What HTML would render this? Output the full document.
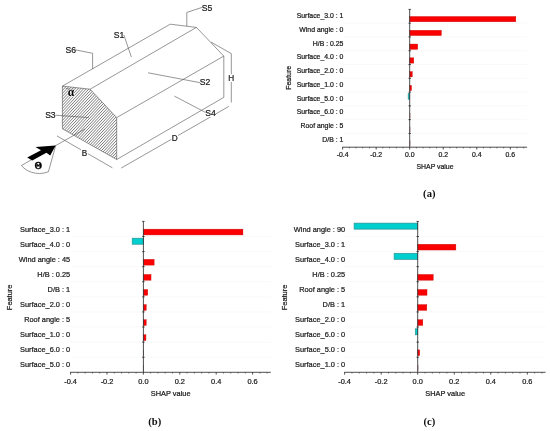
<!DOCTYPE html><html><head><meta charset="utf-8"><title>Figure</title>
<style>html,body{margin:0;padding:0;background:#fff}svg{display:block}text{font-family:"Liberation Sans",sans-serif;fill:#1a1a1a;stroke:#1a1a1a;stroke-width:0.22px}.ser{font-family:"Liberation Serif",serif;font-weight:bold;fill:#111;stroke:none}</style></head><body>
<svg width="550" height="431" viewBox="0 0 550 431">
<rect width="550" height="431" fill="#fff"/>
<line x1="342.62" y1="23.18" x2="527.09" y2="23.18" stroke="#f7f7f7" stroke-width="0.8"/>
<line x1="342.62" y1="36.96" x2="527.09" y2="36.96" stroke="#f7f7f7" stroke-width="0.8"/>
<line x1="342.62" y1="50.74" x2="527.09" y2="50.74" stroke="#f7f7f7" stroke-width="0.8"/>
<line x1="342.62" y1="64.52" x2="527.09" y2="64.52" stroke="#f7f7f7" stroke-width="0.8"/>
<line x1="342.62" y1="78.3" x2="527.09" y2="78.3" stroke="#f7f7f7" stroke-width="0.8"/>
<line x1="342.62" y1="92.08" x2="527.09" y2="92.08" stroke="#f7f7f7" stroke-width="0.8"/>
<line x1="342.62" y1="105.86" x2="527.09" y2="105.86" stroke="#f7f7f7" stroke-width="0.8"/>
<line x1="342.62" y1="119.64" x2="527.09" y2="119.64" stroke="#f7f7f7" stroke-width="0.8"/>
<line x1="342.62" y1="133.42" x2="527.09" y2="133.42" stroke="#f7f7f7" stroke-width="0.8"/>
<rect x="409.7" y="16.49" width="106.15" height="5.3" fill="#fb0000" stroke="#c81414" stroke-width="0.4"/>
<text x="343.4" y="18" font-size="6.9" text-anchor="end">Surface_3.0 : 1</text>
<rect x="409.7" y="30.27" width="31.7" height="5.3" fill="#fb0000" stroke="#c81414" stroke-width="0.4"/>
<text x="343.4" y="32" font-size="6.9" text-anchor="end">Wind angle : 0</text>
<rect x="409.7" y="44.05" width="8.05" height="5.3" fill="#fb0000" stroke="#c81414" stroke-width="0.4"/>
<text x="343.4" y="46" font-size="6.9" text-anchor="end">H/B : 0.25</text>
<rect x="409.7" y="57.83" width="4.11" height="5.3" fill="#fb0000" stroke="#c81414" stroke-width="0.4"/>
<text x="343.4" y="59" font-size="6.9" text-anchor="end">Surface_4.0 : 0</text>
<rect x="409.7" y="71.61" width="2.6" height="5.3" fill="#fb0000" stroke="#c81414" stroke-width="0.4"/>
<text x="343.4" y="73" font-size="6.9" text-anchor="end">Surface_2.0 : 0</text>
<rect x="409.7" y="85.39" width="1.84" height="5.3" fill="#fb0000" stroke="#c81414" stroke-width="0.4"/>
<text x="343.4" y="87" font-size="6.9" text-anchor="end">Surface_1.0 : 0</text>
<rect x="408.19" y="93.67" width="1.51" height="5.5" fill="#00cfcf" stroke="#2a9292" stroke-width="0.7"/>
<text x="343.4" y="101" font-size="6.9" text-anchor="end">Surface_5.0 : 0</text>
<rect x="409.7" y="112.95" width="0.6" height="5.3" fill="#a85a5a"/>
<text x="343.4" y="114" font-size="6.9" text-anchor="end">Surface_6.0 : 0</text>
<rect x="409.7" y="126.73" width="0.6" height="5.3" fill="#a85a5a"/>
<text x="343.4" y="128" font-size="6.9" text-anchor="end">Roof angle : 5</text>
<rect x="409.7" y="140.51" width="0.6" height="5.3" fill="#a85a5a"/>
<text x="343.4" y="142" font-size="6.9" text-anchor="end">D/B : 1</text>
<line x1="409.7" y1="9.4" x2="409.7" y2="147.2" stroke="#2e2e2e" stroke-width="0.85"/>
<line x1="408.5" y1="9.4" x2="410.9" y2="9.4" stroke="#222" stroke-width="0.8"/>
<line x1="408.5" y1="23.18" x2="410.9" y2="23.18" stroke="#222" stroke-width="0.8"/>
<line x1="408.5" y1="36.96" x2="410.9" y2="36.96" stroke="#222" stroke-width="0.8"/>
<line x1="408.5" y1="50.74" x2="410.9" y2="50.74" stroke="#222" stroke-width="0.8"/>
<line x1="408.5" y1="64.52" x2="410.9" y2="64.52" stroke="#222" stroke-width="0.8"/>
<line x1="408.5" y1="78.3" x2="410.9" y2="78.3" stroke="#222" stroke-width="0.8"/>
<line x1="408.5" y1="92.08" x2="410.9" y2="92.08" stroke="#222" stroke-width="0.8"/>
<line x1="408.5" y1="105.86" x2="410.9" y2="105.86" stroke="#222" stroke-width="0.8"/>
<line x1="408.5" y1="119.64" x2="410.9" y2="119.64" stroke="#222" stroke-width="0.8"/>
<line x1="408.5" y1="133.42" x2="410.9" y2="133.42" stroke="#222" stroke-width="0.8"/>
<line x1="342.22" y1="147.2" x2="527.09" y2="147.2" stroke="#2e2e2e" stroke-width="0.85"/>
<line x1="342.62" y1="147.2" x2="342.62" y2="149.5" stroke="#222" stroke-width="0.8"/>
<line x1="349.33" y1="147.2" x2="349.33" y2="148.4" stroke="#333" stroke-width="0.7"/>
<line x1="356.04" y1="147.2" x2="356.04" y2="148.4" stroke="#333" stroke-width="0.7"/>
<line x1="362.74" y1="147.2" x2="362.74" y2="148.4" stroke="#333" stroke-width="0.7"/>
<line x1="369.45" y1="147.2" x2="369.45" y2="148.4" stroke="#333" stroke-width="0.7"/>
<line x1="376.16" y1="147.2" x2="376.16" y2="149.5" stroke="#222" stroke-width="0.8"/>
<line x1="382.87" y1="147.2" x2="382.87" y2="148.4" stroke="#333" stroke-width="0.7"/>
<line x1="389.58" y1="147.2" x2="389.58" y2="148.4" stroke="#333" stroke-width="0.7"/>
<line x1="396.28" y1="147.2" x2="396.28" y2="148.4" stroke="#333" stroke-width="0.7"/>
<line x1="402.99" y1="147.2" x2="402.99" y2="148.4" stroke="#333" stroke-width="0.7"/>
<line x1="409.7" y1="147.2" x2="409.7" y2="149.5" stroke="#222" stroke-width="0.8"/>
<line x1="416.41" y1="147.2" x2="416.41" y2="148.4" stroke="#333" stroke-width="0.7"/>
<line x1="423.12" y1="147.2" x2="423.12" y2="148.4" stroke="#333" stroke-width="0.7"/>
<line x1="429.82" y1="147.2" x2="429.82" y2="148.4" stroke="#333" stroke-width="0.7"/>
<line x1="436.53" y1="147.2" x2="436.53" y2="148.4" stroke="#333" stroke-width="0.7"/>
<line x1="443.24" y1="147.2" x2="443.24" y2="149.5" stroke="#222" stroke-width="0.8"/>
<line x1="449.95" y1="147.2" x2="449.95" y2="148.4" stroke="#333" stroke-width="0.7"/>
<line x1="456.66" y1="147.2" x2="456.66" y2="148.4" stroke="#333" stroke-width="0.7"/>
<line x1="463.36" y1="147.2" x2="463.36" y2="148.4" stroke="#333" stroke-width="0.7"/>
<line x1="470.07" y1="147.2" x2="470.07" y2="148.4" stroke="#333" stroke-width="0.7"/>
<line x1="476.78" y1="147.2" x2="476.78" y2="149.5" stroke="#222" stroke-width="0.8"/>
<line x1="483.49" y1="147.2" x2="483.49" y2="148.4" stroke="#333" stroke-width="0.7"/>
<line x1="490.2" y1="147.2" x2="490.2" y2="148.4" stroke="#333" stroke-width="0.7"/>
<line x1="496.9" y1="147.2" x2="496.9" y2="148.4" stroke="#333" stroke-width="0.7"/>
<line x1="503.61" y1="147.2" x2="503.61" y2="148.4" stroke="#333" stroke-width="0.7"/>
<line x1="510.32" y1="147.2" x2="510.32" y2="149.5" stroke="#222" stroke-width="0.8"/>
<line x1="517.03" y1="147.2" x2="517.03" y2="148.4" stroke="#333" stroke-width="0.7"/>
<line x1="523.74" y1="147.2" x2="523.74" y2="148.4" stroke="#333" stroke-width="0.7"/>
<text x="342.62" y="156.77" font-size="6.9" text-anchor="middle">-0.4</text>
<text x="376.16" y="156.77" font-size="6.9" text-anchor="middle">-0.2</text>
<text x="409.7" y="156.77" font-size="6.9" text-anchor="middle">0.0</text>
<text x="443.24" y="156.77" font-size="6.9" text-anchor="middle">0.2</text>
<text x="476.78" y="156.77" font-size="6.9" text-anchor="middle">0.4</text>
<text x="510.32" y="156.77" font-size="6.9" text-anchor="middle">0.6</text>
<text x="435" y="168.67" font-size="6.9" text-anchor="middle">SHAP value</text>
<text transform="translate(291.27,77.8) rotate(-90)" font-size="6.9" text-anchor="middle">Feature</text>
<text class="ser" x="429.3" y="196.6" font-size="10.6" text-anchor="middle">(a)</text>
<line x1="70.6" y1="236.49" x2="270.8" y2="236.49" stroke="#f7f7f7" stroke-width="0.8"/>
<line x1="70.6" y1="251.58" x2="270.8" y2="251.58" stroke="#f7f7f7" stroke-width="0.8"/>
<line x1="70.6" y1="266.67" x2="270.8" y2="266.67" stroke="#f7f7f7" stroke-width="0.8"/>
<line x1="70.6" y1="281.76" x2="270.8" y2="281.76" stroke="#f7f7f7" stroke-width="0.8"/>
<line x1="70.6" y1="296.85" x2="270.8" y2="296.85" stroke="#f7f7f7" stroke-width="0.8"/>
<line x1="70.6" y1="311.94" x2="270.8" y2="311.94" stroke="#f7f7f7" stroke-width="0.8"/>
<line x1="70.6" y1="327.03" x2="270.8" y2="327.03" stroke="#f7f7f7" stroke-width="0.8"/>
<line x1="70.6" y1="342.12" x2="270.8" y2="342.12" stroke="#f7f7f7" stroke-width="0.8"/>
<line x1="70.6" y1="357.21" x2="270.8" y2="357.21" stroke="#f7f7f7" stroke-width="0.8"/>
<rect x="143.4" y="229.14" width="99.55" height="5.8" fill="#fb0000" stroke="#c81414" stroke-width="0.4"/>
<text x="70.2" y="232" font-size="7.4" text-anchor="end">Surface_3.0 : 1</text>
<rect x="132.21" y="238.23" width="11.19" height="6" fill="#00cfcf" stroke="#2a9292" stroke-width="0.7"/>
<text x="70.2" y="247" font-size="7.4" text-anchor="end">Surface_4.0 : 0</text>
<rect x="143.4" y="259.32" width="10.74" height="5.8" fill="#fb0000" stroke="#c81414" stroke-width="0.4"/>
<text x="70.2" y="262" font-size="7.4" text-anchor="end">Wind angle : 45</text>
<rect x="143.4" y="274.42" width="7.64" height="5.8" fill="#fb0000" stroke="#c81414" stroke-width="0.4"/>
<text x="70.2" y="277" font-size="7.4" text-anchor="end">H/B : 0.25</text>
<rect x="143.4" y="289.5" width="4.37" height="5.8" fill="#fb0000" stroke="#c81414" stroke-width="0.4"/>
<text x="70.2" y="292" font-size="7.4" text-anchor="end">D/B : 1</text>
<rect x="143.4" y="304.59" width="2.82" height="5.8" fill="#fb0000" stroke="#c81414" stroke-width="0.4"/>
<text x="70.2" y="307" font-size="7.4" text-anchor="end">Surface_2.0 : 0</text>
<rect x="143.4" y="319.69" width="2.8" height="5.8" fill="#fb0000" stroke="#c81414" stroke-width="0.4"/>
<text x="70.2" y="322" font-size="7.4" text-anchor="end">Roof angle : 5</text>
<rect x="143.4" y="334.77" width="2.55" height="5.8" fill="#fb0000" stroke="#c81414" stroke-width="0.4"/>
<text x="70.2" y="337" font-size="7.4" text-anchor="end">Surface_1.0 : 0</text>
<rect x="143.4" y="349.86" width="0.6" height="5.8" fill="#a85a5a"/>
<text x="70.2" y="352" font-size="7.4" text-anchor="end">Surface_6.0 : 0</text>
<rect x="143.4" y="364.95" width="0.6" height="5.8" fill="#a85a5a"/>
<text x="70.2" y="367" font-size="7.4" text-anchor="end">Surface_5.0 : 0</text>
<line x1="143.4" y1="221.4" x2="143.4" y2="372.3" stroke="#2e2e2e" stroke-width="0.85"/>
<line x1="142.2" y1="221.4" x2="144.6" y2="221.4" stroke="#222" stroke-width="0.8"/>
<line x1="142.2" y1="236.49" x2="144.6" y2="236.49" stroke="#222" stroke-width="0.8"/>
<line x1="142.2" y1="251.58" x2="144.6" y2="251.58" stroke="#222" stroke-width="0.8"/>
<line x1="142.2" y1="266.67" x2="144.6" y2="266.67" stroke="#222" stroke-width="0.8"/>
<line x1="142.2" y1="281.76" x2="144.6" y2="281.76" stroke="#222" stroke-width="0.8"/>
<line x1="142.2" y1="296.85" x2="144.6" y2="296.85" stroke="#222" stroke-width="0.8"/>
<line x1="142.2" y1="311.94" x2="144.6" y2="311.94" stroke="#222" stroke-width="0.8"/>
<line x1="142.2" y1="327.03" x2="144.6" y2="327.03" stroke="#222" stroke-width="0.8"/>
<line x1="142.2" y1="342.12" x2="144.6" y2="342.12" stroke="#222" stroke-width="0.8"/>
<line x1="142.2" y1="357.21" x2="144.6" y2="357.21" stroke="#222" stroke-width="0.8"/>
<line x1="70.2" y1="372.3" x2="270.8" y2="372.3" stroke="#2e2e2e" stroke-width="0.85"/>
<line x1="70.6" y1="372.3" x2="70.6" y2="374.6" stroke="#222" stroke-width="0.8"/>
<line x1="77.88" y1="372.3" x2="77.88" y2="373.5" stroke="#333" stroke-width="0.7"/>
<line x1="85.16" y1="372.3" x2="85.16" y2="373.5" stroke="#333" stroke-width="0.7"/>
<line x1="92.44" y1="372.3" x2="92.44" y2="373.5" stroke="#333" stroke-width="0.7"/>
<line x1="99.72" y1="372.3" x2="99.72" y2="373.5" stroke="#333" stroke-width="0.7"/>
<line x1="107" y1="372.3" x2="107" y2="374.6" stroke="#222" stroke-width="0.8"/>
<line x1="114.28" y1="372.3" x2="114.28" y2="373.5" stroke="#333" stroke-width="0.7"/>
<line x1="121.56" y1="372.3" x2="121.56" y2="373.5" stroke="#333" stroke-width="0.7"/>
<line x1="128.84" y1="372.3" x2="128.84" y2="373.5" stroke="#333" stroke-width="0.7"/>
<line x1="136.12" y1="372.3" x2="136.12" y2="373.5" stroke="#333" stroke-width="0.7"/>
<line x1="143.4" y1="372.3" x2="143.4" y2="374.6" stroke="#222" stroke-width="0.8"/>
<line x1="150.68" y1="372.3" x2="150.68" y2="373.5" stroke="#333" stroke-width="0.7"/>
<line x1="157.96" y1="372.3" x2="157.96" y2="373.5" stroke="#333" stroke-width="0.7"/>
<line x1="165.24" y1="372.3" x2="165.24" y2="373.5" stroke="#333" stroke-width="0.7"/>
<line x1="172.52" y1="372.3" x2="172.52" y2="373.5" stroke="#333" stroke-width="0.7"/>
<line x1="179.8" y1="372.3" x2="179.8" y2="374.6" stroke="#222" stroke-width="0.8"/>
<line x1="187.08" y1="372.3" x2="187.08" y2="373.5" stroke="#333" stroke-width="0.7"/>
<line x1="194.36" y1="372.3" x2="194.36" y2="373.5" stroke="#333" stroke-width="0.7"/>
<line x1="201.64" y1="372.3" x2="201.64" y2="373.5" stroke="#333" stroke-width="0.7"/>
<line x1="208.92" y1="372.3" x2="208.92" y2="373.5" stroke="#333" stroke-width="0.7"/>
<line x1="216.2" y1="372.3" x2="216.2" y2="374.6" stroke="#222" stroke-width="0.8"/>
<line x1="223.48" y1="372.3" x2="223.48" y2="373.5" stroke="#333" stroke-width="0.7"/>
<line x1="230.76" y1="372.3" x2="230.76" y2="373.5" stroke="#333" stroke-width="0.7"/>
<line x1="238.04" y1="372.3" x2="238.04" y2="373.5" stroke="#333" stroke-width="0.7"/>
<line x1="245.32" y1="372.3" x2="245.32" y2="373.5" stroke="#333" stroke-width="0.7"/>
<line x1="252.6" y1="372.3" x2="252.6" y2="374.6" stroke="#222" stroke-width="0.8"/>
<line x1="259.88" y1="372.3" x2="259.88" y2="373.5" stroke="#333" stroke-width="0.7"/>
<line x1="267.16" y1="372.3" x2="267.16" y2="373.5" stroke="#333" stroke-width="0.7"/>
<text x="70.6" y="383.65" font-size="7.4" text-anchor="middle">-0.4</text>
<text x="107" y="383.65" font-size="7.4" text-anchor="middle">-0.2</text>
<text x="143.4" y="383.65" font-size="7.4" text-anchor="middle">0.0</text>
<text x="179.8" y="383.65" font-size="7.4" text-anchor="middle">0.2</text>
<text x="216.2" y="383.65" font-size="7.4" text-anchor="middle">0.4</text>
<text x="252.6" y="383.65" font-size="7.4" text-anchor="middle">0.6</text>
<text x="170.7" y="395.65" font-size="7.4" text-anchor="middle">SHAP value</text>
<text transform="translate(11.95,297.4) rotate(-90)" font-size="7.4" text-anchor="middle">Feature</text>
<text class="ser" x="154.8" y="425" font-size="10.6" text-anchor="middle">(b)</text>
<line x1="344.62" y1="236.49" x2="545.59" y2="236.49" stroke="#f7f7f7" stroke-width="0.8"/>
<line x1="344.62" y1="251.58" x2="545.59" y2="251.58" stroke="#f7f7f7" stroke-width="0.8"/>
<line x1="344.62" y1="266.67" x2="545.59" y2="266.67" stroke="#f7f7f7" stroke-width="0.8"/>
<line x1="344.62" y1="281.76" x2="545.59" y2="281.76" stroke="#f7f7f7" stroke-width="0.8"/>
<line x1="344.62" y1="296.85" x2="545.59" y2="296.85" stroke="#f7f7f7" stroke-width="0.8"/>
<line x1="344.62" y1="311.94" x2="545.59" y2="311.94" stroke="#f7f7f7" stroke-width="0.8"/>
<line x1="344.62" y1="327.03" x2="545.59" y2="327.03" stroke="#f7f7f7" stroke-width="0.8"/>
<line x1="344.62" y1="342.12" x2="545.59" y2="342.12" stroke="#f7f7f7" stroke-width="0.8"/>
<line x1="344.62" y1="357.21" x2="545.59" y2="357.21" stroke="#f7f7f7" stroke-width="0.8"/>
<rect x="354.12" y="223.14" width="63.58" height="6" fill="#00cfcf" stroke="#2a9292" stroke-width="0.7"/>
<text x="345.2" y="232" font-size="7.4" text-anchor="end">Wind angle : 90</text>
<rect x="417.7" y="244.23" width="38.18" height="5.8" fill="#fb0000" stroke="#c81414" stroke-width="0.4"/>
<text x="345.2" y="247" font-size="7.4" text-anchor="end">Surface_3.0 : 1</text>
<rect x="394.13" y="253.32" width="23.57" height="6" fill="#00cfcf" stroke="#2a9292" stroke-width="0.7"/>
<text x="345.2" y="262" font-size="7.4" text-anchor="end">Surface_4.0 : 0</text>
<rect x="417.7" y="274.42" width="15.53" height="5.8" fill="#fb0000" stroke="#c81414" stroke-width="0.4"/>
<text x="345.2" y="277" font-size="7.4" text-anchor="end">H/B : 0.25</text>
<rect x="417.7" y="289.5" width="9.32" height="5.8" fill="#fb0000" stroke="#c81414" stroke-width="0.4"/>
<text x="345.2" y="292" font-size="7.4" text-anchor="end">Roof angle : 5</text>
<rect x="417.7" y="304.59" width="9.13" height="5.8" fill="#fb0000" stroke="#c81414" stroke-width="0.4"/>
<text x="345.2" y="307" font-size="7.4" text-anchor="end">D/B : 1</text>
<rect x="417.7" y="319.69" width="5.12" height="5.8" fill="#fb0000" stroke="#c81414" stroke-width="0.4"/>
<text x="345.2" y="322" font-size="7.4" text-anchor="end">Surface_2.0 : 0</text>
<rect x="415.32" y="328.77" width="2.38" height="6" fill="#00cfcf" stroke="#2a9292" stroke-width="0.7"/>
<text x="345.2" y="337" font-size="7.4" text-anchor="end">Surface_6.0 : 0</text>
<rect x="417.7" y="349.86" width="2.01" height="5.8" fill="#fb0000" stroke="#c81414" stroke-width="0.4"/>
<text x="345.2" y="352" font-size="7.4" text-anchor="end">Surface_5.0 : 0</text>
<rect x="417.7" y="364.95" width="0.6" height="5.8" fill="#a85a5a"/>
<text x="345.2" y="367" font-size="7.4" text-anchor="end">Surface_1.0 : 0</text>
<line x1="417.7" y1="221.4" x2="417.7" y2="372.3" stroke="#2e2e2e" stroke-width="0.85"/>
<line x1="416.5" y1="221.4" x2="418.9" y2="221.4" stroke="#222" stroke-width="0.8"/>
<line x1="416.5" y1="236.49" x2="418.9" y2="236.49" stroke="#222" stroke-width="0.8"/>
<line x1="416.5" y1="251.58" x2="418.9" y2="251.58" stroke="#222" stroke-width="0.8"/>
<line x1="416.5" y1="266.67" x2="418.9" y2="266.67" stroke="#222" stroke-width="0.8"/>
<line x1="416.5" y1="281.76" x2="418.9" y2="281.76" stroke="#222" stroke-width="0.8"/>
<line x1="416.5" y1="296.85" x2="418.9" y2="296.85" stroke="#222" stroke-width="0.8"/>
<line x1="416.5" y1="311.94" x2="418.9" y2="311.94" stroke="#222" stroke-width="0.8"/>
<line x1="416.5" y1="327.03" x2="418.9" y2="327.03" stroke="#222" stroke-width="0.8"/>
<line x1="416.5" y1="342.12" x2="418.9" y2="342.12" stroke="#222" stroke-width="0.8"/>
<line x1="416.5" y1="357.21" x2="418.9" y2="357.21" stroke="#222" stroke-width="0.8"/>
<line x1="344.22" y1="372.3" x2="545.59" y2="372.3" stroke="#2e2e2e" stroke-width="0.85"/>
<line x1="344.62" y1="372.3" x2="344.62" y2="374.6" stroke="#222" stroke-width="0.8"/>
<line x1="351.93" y1="372.3" x2="351.93" y2="373.5" stroke="#333" stroke-width="0.7"/>
<line x1="359.24" y1="372.3" x2="359.24" y2="373.5" stroke="#333" stroke-width="0.7"/>
<line x1="366.54" y1="372.3" x2="366.54" y2="373.5" stroke="#333" stroke-width="0.7"/>
<line x1="373.85" y1="372.3" x2="373.85" y2="373.5" stroke="#333" stroke-width="0.7"/>
<line x1="381.16" y1="372.3" x2="381.16" y2="374.6" stroke="#222" stroke-width="0.8"/>
<line x1="388.47" y1="372.3" x2="388.47" y2="373.5" stroke="#333" stroke-width="0.7"/>
<line x1="395.78" y1="372.3" x2="395.78" y2="373.5" stroke="#333" stroke-width="0.7"/>
<line x1="403.08" y1="372.3" x2="403.08" y2="373.5" stroke="#333" stroke-width="0.7"/>
<line x1="410.39" y1="372.3" x2="410.39" y2="373.5" stroke="#333" stroke-width="0.7"/>
<line x1="417.7" y1="372.3" x2="417.7" y2="374.6" stroke="#222" stroke-width="0.8"/>
<line x1="425.01" y1="372.3" x2="425.01" y2="373.5" stroke="#333" stroke-width="0.7"/>
<line x1="432.32" y1="372.3" x2="432.32" y2="373.5" stroke="#333" stroke-width="0.7"/>
<line x1="439.62" y1="372.3" x2="439.62" y2="373.5" stroke="#333" stroke-width="0.7"/>
<line x1="446.93" y1="372.3" x2="446.93" y2="373.5" stroke="#333" stroke-width="0.7"/>
<line x1="454.24" y1="372.3" x2="454.24" y2="374.6" stroke="#222" stroke-width="0.8"/>
<line x1="461.55" y1="372.3" x2="461.55" y2="373.5" stroke="#333" stroke-width="0.7"/>
<line x1="468.86" y1="372.3" x2="468.86" y2="373.5" stroke="#333" stroke-width="0.7"/>
<line x1="476.16" y1="372.3" x2="476.16" y2="373.5" stroke="#333" stroke-width="0.7"/>
<line x1="483.47" y1="372.3" x2="483.47" y2="373.5" stroke="#333" stroke-width="0.7"/>
<line x1="490.78" y1="372.3" x2="490.78" y2="374.6" stroke="#222" stroke-width="0.8"/>
<line x1="498.09" y1="372.3" x2="498.09" y2="373.5" stroke="#333" stroke-width="0.7"/>
<line x1="505.4" y1="372.3" x2="505.4" y2="373.5" stroke="#333" stroke-width="0.7"/>
<line x1="512.7" y1="372.3" x2="512.7" y2="373.5" stroke="#333" stroke-width="0.7"/>
<line x1="520.01" y1="372.3" x2="520.01" y2="373.5" stroke="#333" stroke-width="0.7"/>
<line x1="527.32" y1="372.3" x2="527.32" y2="374.6" stroke="#222" stroke-width="0.8"/>
<line x1="534.63" y1="372.3" x2="534.63" y2="373.5" stroke="#333" stroke-width="0.7"/>
<line x1="541.94" y1="372.3" x2="541.94" y2="373.5" stroke="#333" stroke-width="0.7"/>
<text x="344.62" y="383.65" font-size="7.4" text-anchor="middle">-0.4</text>
<text x="381.16" y="383.65" font-size="7.4" text-anchor="middle">-0.2</text>
<text x="417.7" y="383.65" font-size="7.4" text-anchor="middle">0.0</text>
<text x="454.24" y="383.65" font-size="7.4" text-anchor="middle">0.2</text>
<text x="490.78" y="383.65" font-size="7.4" text-anchor="middle">0.4</text>
<text x="527.32" y="383.65" font-size="7.4" text-anchor="middle">0.6</text>
<text x="445.2" y="395.65" font-size="7.4" text-anchor="middle">SHAP value</text>
<text transform="translate(286.75,297.5) rotate(-90)" font-size="7.4" text-anchor="middle">Feature</text>
<text class="ser" x="429.3" y="425.2" font-size="10.6" text-anchor="middle">(c)</text>
<defs><clipPath id="fc"><polygon points="62.4,86.1 90.1,89.2 116.7,117.6 116.7,159.5 62.4,128.8"/></clipPath></defs>
<path clip-path="url(#fc)" d="M-113.28,170.7 L-20.02,70.7 M-110.48,170.7 L-17.22,70.7 M-107.68,170.7 L-14.42,70.7 M-104.88,170.7 L-11.62,70.7 M-102.08,170.7 L-8.82,70.7 M-99.28,170.7 L-6.02,70.7 M-96.48,170.7 L-3.22,70.7 M-93.68,170.7 L-0.42,70.7 M-90.88,170.7 L2.38,70.7 M-88.08,170.7 L5.18,70.7 M-85.28,170.7 L7.98,70.7 M-82.48,170.7 L10.78,70.7 M-79.68,170.7 L13.58,70.7 M-76.88,170.7 L16.38,70.7 M-74.08,170.7 L19.18,70.7 M-71.28,170.7 L21.98,70.7 M-68.48,170.7 L24.78,70.7 M-65.68,170.7 L27.58,70.7 M-62.88,170.7 L30.38,70.7 M-60.08,170.7 L33.18,70.7 M-57.28,170.7 L35.98,70.7 M-54.48,170.7 L38.78,70.7 M-51.68,170.7 L41.58,70.7 M-48.88,170.7 L44.38,70.7 M-46.08,170.7 L47.18,70.7 M-43.28,170.7 L49.98,70.7 M-40.48,170.7 L52.78,70.7 M-37.68,170.7 L55.58,70.7 M-34.88,170.7 L58.38,70.7 M-32.08,170.7 L61.18,70.7 M-29.28,170.7 L63.98,70.7 M-26.48,170.7 L66.78,70.7 M-23.68,170.7 L69.58,70.7 M-20.88,170.7 L72.38,70.7 M-18.08,170.7 L75.18,70.7 M-15.28,170.7 L77.98,70.7 M-12.48,170.7 L80.78,70.7 M-9.68,170.7 L83.58,70.7 M-6.88,170.7 L86.38,70.7 M-4.08,170.7 L89.18,70.7 M-1.28,170.7 L91.98,70.7 M1.52,170.7 L94.78,70.7 M4.32,170.7 L97.58,70.7 M7.12,170.7 L100.38,70.7 M9.92,170.7 L103.18,70.7 M12.72,170.7 L105.98,70.7 M15.52,170.7 L108.78,70.7 M18.32,170.7 L111.58,70.7 M21.12,170.7 L114.38,70.7 M23.92,170.7 L117.18,70.7 M26.72,170.7 L119.98,70.7 M29.52,170.7 L122.78,70.7 M32.32,170.7 L125.58,70.7 M35.12,170.7 L128.38,70.7 M37.92,170.7 L131.18,70.7 M40.72,170.7 L133.98,70.7 M43.52,170.7 L136.78,70.7 M46.32,170.7 L139.58,70.7 M49.12,170.7 L142.38,70.7 M51.92,170.7 L145.18,70.7 M54.72,170.7 L147.98,70.7 M57.52,170.7 L150.78,70.7 M60.32,170.7 L153.58,70.7 M63.12,170.7 L156.38,70.7 M65.92,170.7 L159.18,70.7 M68.72,170.7 L161.98,70.7 M71.52,170.7 L164.78,70.7 M74.32,170.7 L167.58,70.7 M77.12,170.7 L170.38,70.7 M79.92,170.7 L173.18,70.7 M82.72,170.7 L175.98,70.7 M85.52,170.7 L178.78,70.7 M88.32,170.7 L181.58,70.7 M91.12,170.7 L184.38,70.7 M93.92,170.7 L187.18,70.7 M96.72,170.7 L189.98,70.7 M99.52,170.7 L192.78,70.7 M102.32,170.7 L195.58,70.7 M105.12,170.7 L198.38,70.7 M107.92,170.7 L201.18,70.7 M110.72,170.7 L203.98,70.7 M113.52,170.7 L206.78,70.7 M116.32,170.7 L209.58,70.7 M119.12,170.7 L212.38,70.7 M121.92,170.7 L215.18,70.7" stroke="#666" stroke-width="0.85" fill="none"/>
<g fill="none" stroke="#4a4a4a" stroke-width="0.58" stroke-linecap="butt">
<polygon points="62.4,86.1 90.1,89.2 116.7,117.6 116.7,159.5 62.4,128.8"/>
<path d="M62.4,86.1 L170.2,24.2 M90.1,89.2 L196.4,27.4 M116.7,117.6 L223.8,56.1 M116.7,159.5 L223.8,97.4"/>
<path d="M170.2,24.2 L196.4,27.4 L223.8,56.1 L223.8,97.4"/>
<path d="M211,42.1 L231.3,53.6 L231.3,102.5"/>
<path d="M121.1,168.1 L228.9,106.4"/>
<path d="M56.9,135.9 L112.4,167.8"/>
<path d="M55.7,145.6 L85,129"/>
<path d="M55.7,145.6 L21.5,165.5 C25,170.5 36,176.5 48.4,171.8 Z"/>
<path d="M75.7,49.9 L92.6,53.3 L92.6,69"/>
<path d="M123.8,34.8 L131.4,57.1"/>
<path d="M186.8,26.1 L186.8,12.4 L202.1,7.4"/>
<path d="M148.1,72.8 L200.2,82.7"/>
<path d="M174.4,96.1 L206,112.7"/>
<path d="M55.5,115.2 L88.8,117.6"/>
<path d="M65.8,88.3 Q71,90 74.9,89.2"/>
</g>
<polygon points="55.7,145.6 35.5,147 41,150.2 27.2,157.4 32.3,160.6 46.4,152.7 50.2,155.5" fill="#000"/>
<text x="70.8" y="53.28" font-size="8.6" text-anchor="middle">S6</text>
<text x="119.1" y="38.18" font-size="8.6" text-anchor="middle">S1</text>
<text x="207.1" y="10.68" font-size="8.6" text-anchor="middle">S5</text>
<text x="205.1" y="85.08" font-size="8.6" text-anchor="middle">S2</text>
<rect x="205.7" y="109.5" width="9.6" height="7.6" fill="#fff"/>
<text x="210.5" y="116.38" font-size="8.6" text-anchor="middle">S4</text>
<text x="50.4" y="118.38" font-size="8.6" text-anchor="middle">S3</text>
<rect x="227.9" y="74.3" width="6.8" height="7.6" fill="#fff"/>
<text x="231.3" y="81.04" font-size="8.2" text-anchor="middle">H</text>
<rect x="171.3" y="133.8" width="6.8" height="7.6" fill="#fff"/>
<text x="174.7" y="140.54" font-size="8.2" text-anchor="middle">D</text>
<rect x="81" y="149" width="6.8" height="7.6" fill="#fff"/>
<text x="84.4" y="155.74" font-size="8.2" text-anchor="middle">B</text>
<text class="ser" x="71.1" y="95.6" font-size="11.6" text-anchor="middle" style="fill:#000;stroke:#fff;stroke-width:0.9px;paint-order:stroke">α</text>
<text class="ser" x="38.2" y="169" font-size="9.8" text-anchor="middle" style="fill:#000;stroke:#000;stroke-width:0.35px">Θ</text>
</svg></body></html>
